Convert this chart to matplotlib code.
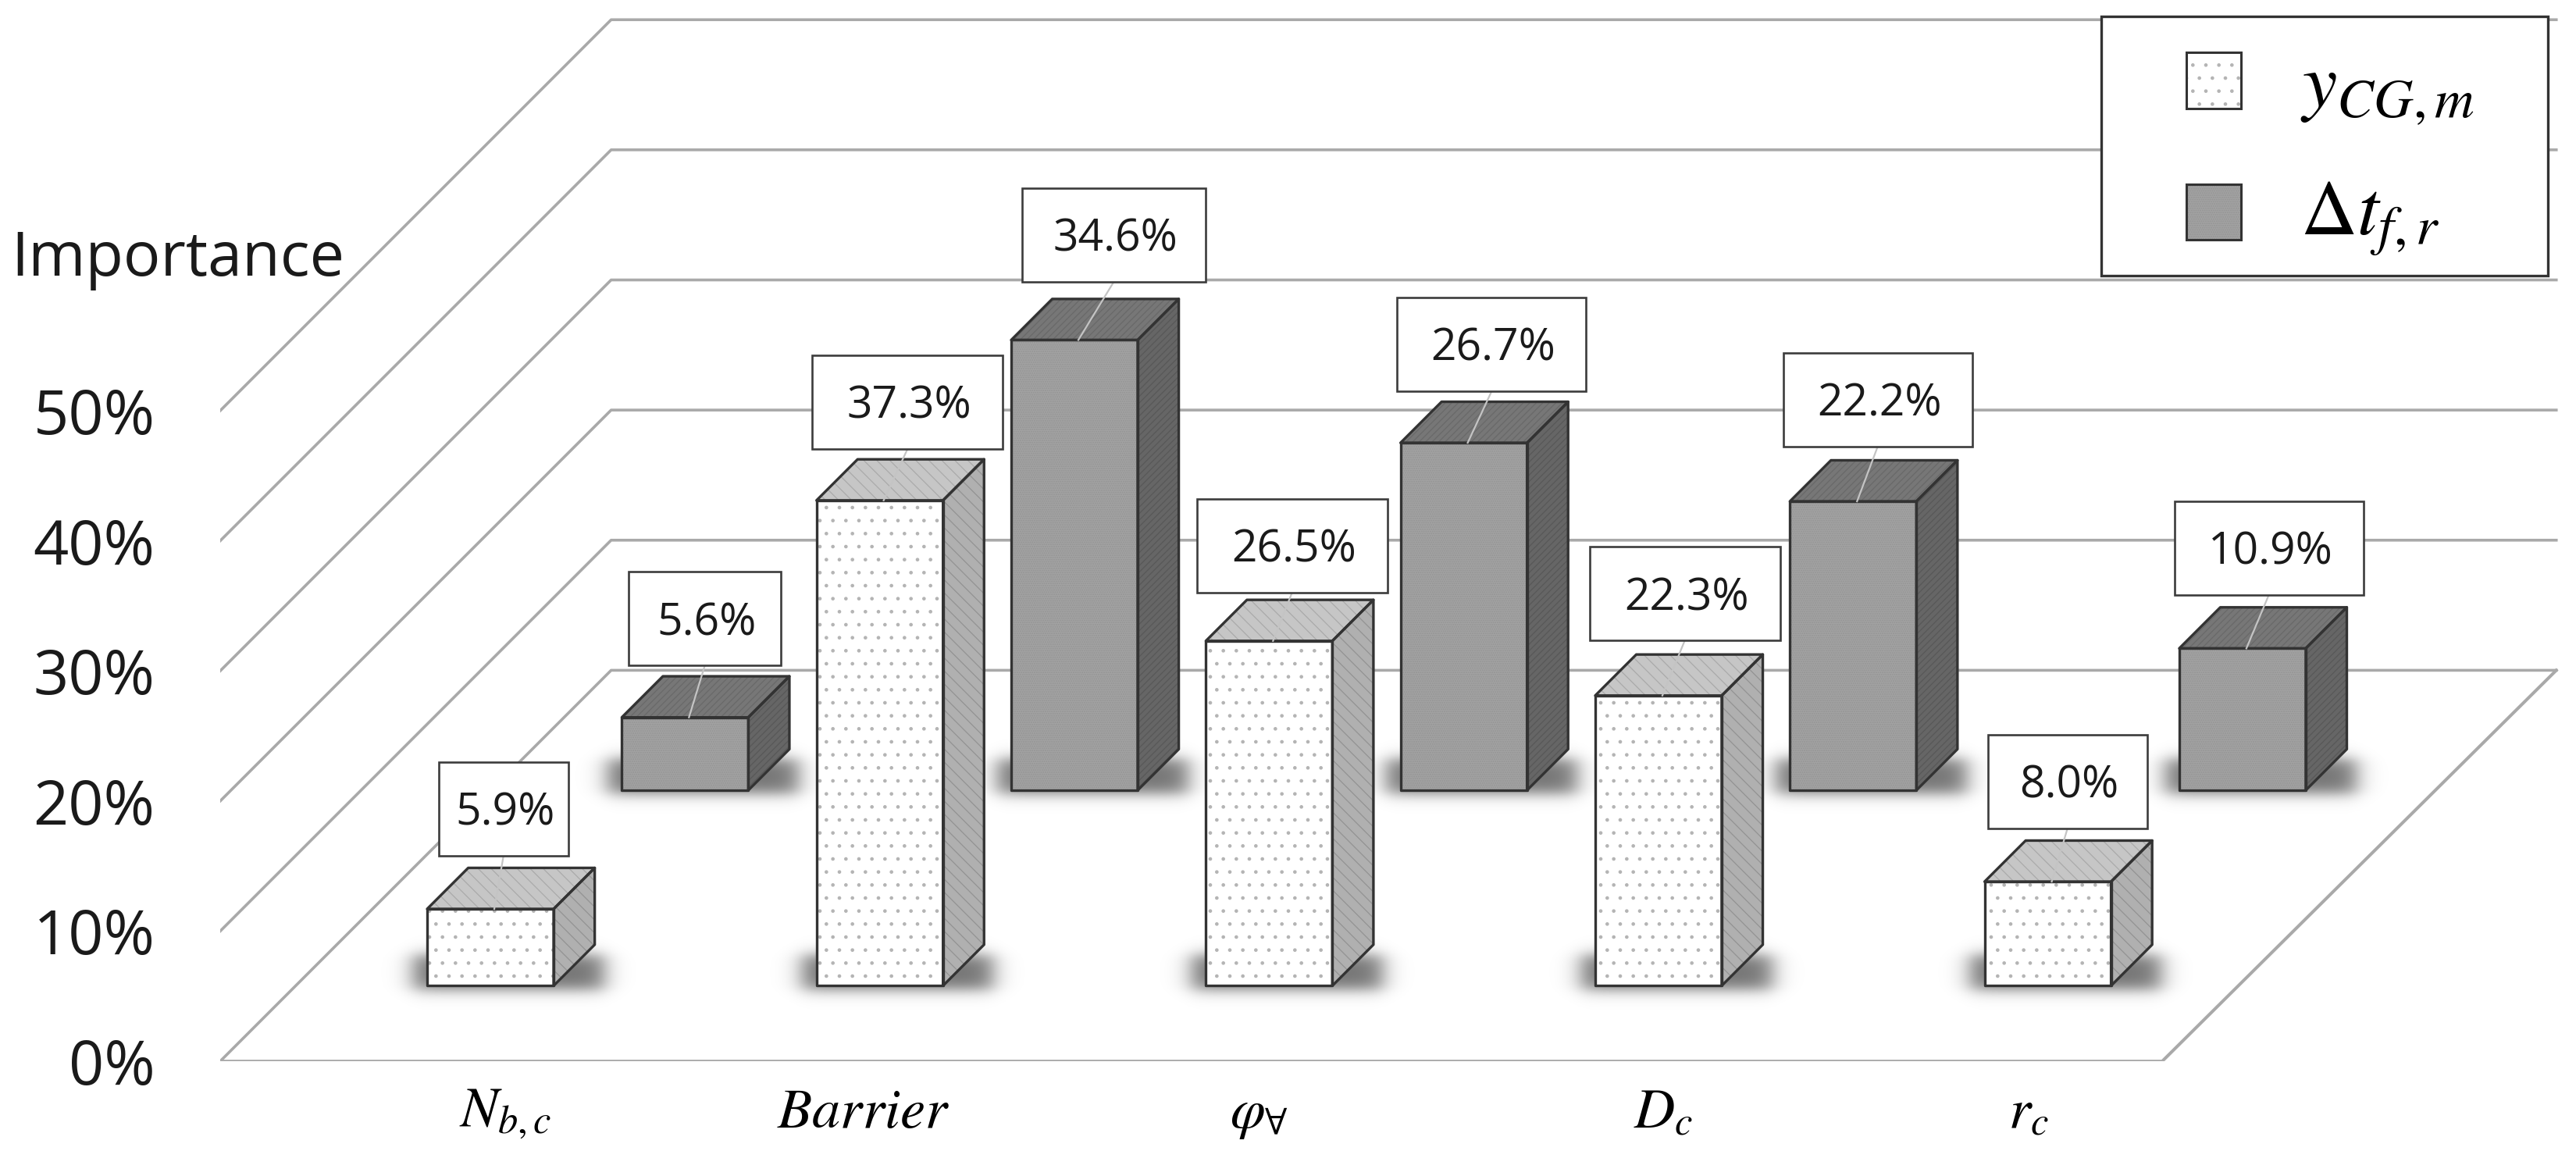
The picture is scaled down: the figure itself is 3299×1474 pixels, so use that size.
import numpy as np
import matplotlib
matplotlib.use("Agg")
import matplotlib.pyplot as plt
from matplotlib.patches import Polygon, Rectangle

# values
categories = [r"$N_{b,c}$", r"$Barrier$", r"$\varphi_{\forall}$", r"$D_c$", r"$r_c$"]
series_names = [r"$y_{CG,m}$", r"$\Delta t_{f,r}$"]
y_cg_m = [5.9, 37.3, 26.5, 22.3, 8.0]
dt_f_r = [5.6, 34.6, 26.7, 22.2, 10.9]
percent_ticks = [0, 10, 20, 30, 40, 50]

plt.rcParams["font.family"] = ["Open Sans", "DejaVu Sans"]
plt.rcParams["mathtext.fontset"] = "stix"
plt.rcParams["hatch.linewidth"] = 0.9

# picture is 1568 wide in "display" units, 1% of importance = 7.92 units
W, H = 1568.0, 700.6
cat_w = 237.0
per = 7.92
fig = plt.figure(figsize=(32.99, 14.74), dpi=100)
ax = fig.add_axes([134 / W, (H - 646) / H, (W - 134) / W, 646 / H])
for s in ax.spines.values():
    s.set_visible(False)

# oblique floor and walls
grid_c = "#a9a9a9"
run_x = 238 / cat_w
run_y = 238 / per
x_left = (134 - 260) / cat_w
x_right = (1556 - 260) / cat_w
for v in percent_ticks:
    ax.plot([x_left, x_left + run_x, x_right], [v, v + run_y, v + run_y], color=grid_c, lw=2.6, zorder=1)
ax.plot([x_left, x_right - run_x - 0.008, x_right], [0, 0, run_y], color=grid_c, lw=2.9, zorder=1)

bar_w = 77 / cat_w
depth_x = 25 / cat_w
depth_y = 25 / per
base_1 = (646 - 600) / per
base_2 = (646 - 481) / per
shift_2 = 118.5 / cat_w

styles_1 = dict(front=("#ffffff", "#b4b4b4", "."), side=("#b0b0b0", "#939393", "\\\\"), top=("#c6c6c6", "#aaaaaa", "\\\\"))
styles_2 = dict(front=("#a2a2a2", "#949494", "......"), side=("#666666", "#585858", "////"), top=("#777777", "#696969", "////"))
edge_c = "#333333"


def soft_shadow(x0, x1, y0, y1, sx, sy, z):
    xs = np.linspace(x0 - 4 * sx, x1 + 4 * sx, 120)
    ys = np.linspace(y0 - 4 * sy, y1 + 4 * sy, 80)
    fx = 0.5 * (np.tanh((xs - x0) / sx) - np.tanh((xs - x1) / sx))
    fy = 0.5 * (np.tanh((ys - y0) / sy) - np.tanh((ys - y1) / sy))
    img = np.zeros((len(ys), len(xs), 4))
    img[..., 3] = 0.55 * np.outer(fy, fx)
    ax.imshow(img, extent=[xs[0], xs[-1], ys[0], ys[-1]], origin="lower", aspect="auto",
              interpolation="bilinear", zorder=z)


def face(pts, style, z):
    fc, hc, h = style
    ax.add_patch(Polygon(pts, closed=True, facecolor=fc, edgecolor=hc, hatch=h, lw=0, zorder=z))
    ax.add_patch(Polygon(pts, closed=True, fill=False, edgecolor=edge_c, lw=2.4, joinstyle="round", zorder=z + 0.01))


def bar3d(x, base, val, st, z):
    t = base + val
    x1 = x + bar_w
    soft_shadow(x - 9 / cat_w, x1 + depth_x + 6 / cat_w, base - 0.3, base + 2.4, 8 / cat_w, 0.65, 2)
    face([(x, base), (x1, base), (x1, t), (x, t)], st["front"], z)
    face([(x1, base), (x1 + depth_x, base + depth_y), (x1 + depth_x, t + depth_y), (x1, t)], st["side"], z)
    face([(x, t), (x1, t), (x1 + depth_x, t + depth_y), (x + depth_x, t + depth_y)], st["top"], z)


# label boxes: offset from bar centre (display units) and box width
label_dx_1 = [8, 17, 14, 16, 12]
label_dy_1 = [61, 60, 58, 62, 61]
label_w_1 = [79, 116, 116, 116, 97]
label_dx_2 = [12, 24, 17, 15, 16]
label_dy_2 = [60, 64, 60, 62, 61]
label_w_2 = [93, 112, 115, 115, 115]
box_h = 57 / per


def value_label(x, base, val, dx, dy, w):
    cx = x + bar_w / 2
    t = base + val
    bx = cx + dx / cat_w
    by = t + dy / per
    ax.plot([bx, cx + 0.01], [by - box_h / 2, t], color="#c4c4c4", lw=1.6, zorder=9)
    ax.add_patch(Rectangle((bx - w / cat_w / 2, by - box_h / 2), w / cat_w, box_h, facecolor="white",
                           edgecolor="#3c3c3c", lw=1.9, zorder=10))
    ax.text(bx + 1 / cat_w, by - 3 / per, "%.1f%%" % val, ha="center", va="center", fontsize=41,
            color="#1a1a1a", zorder=11)


for i in range(len(categories)):
    bar3d(i + shift_2, base_2, dt_f_r[i], styles_2, 3 + 0.1 * i)
for i in range(len(categories)):
    bar3d(i, base_1, y_cg_m[i], styles_1, 4 + 0.1 * i)
for i in range(len(categories)):
    value_label(i, base_1, y_cg_m[i], label_dx_1[i], label_dy_1[i], label_w_1[i])
    value_label(i + shift_2, base_2, dt_f_r[i], label_dx_2[i], label_dy_2[i], label_w_2[i])

# axes text
tick_shift = [9, -10, -6, 3, -12]
ax.set_xticks([i + bar_w / 2 + tick_shift[i] / cat_w for i in range(len(categories))])
ax.set_xticklabels(categories, fontsize=52)
ax.set_yticks(percent_ticks)
ax.set_yticklabels(["%d%%" % v for v in percent_ticks], fontsize=57, color="#1a1a1a")
ax.tick_params(axis="x", length=0, pad=22)
ax.tick_params(axis="y", length=0, pad=60)
ax.set_xlim((134 - 260) / cat_w, (W - 260) / cat_w)
ax.set_ylim(0, 646 / per)
fig.text(7 / W, 1 - 158 / H, "Importance", fontsize=57, ha="left", va="center", color="#1a1a1a")


# legend box, drawn by hand to get the wide frame of the original
def fig_rect(x0, y0, x1, y1, **kw):
    fig.add_artist(Rectangle((x0 / W, 1 - y1 / H), (x1 - x0) / W, (y1 - y0) / H,
                             transform=fig.transFigure, **kw))


fig_rect(1279, 10, 1551, 168, facecolor="white", edgecolor="#333333", lw=2.4, zorder=20)
fig_rect(1331, 32, 1364, 66, facecolor="white", edgecolor="#b4b4b4", hatch=".", lw=0, zorder=21)
fig_rect(1331, 32, 1364, 66, fill=False, edgecolor="#333333", lw=2.2, zorder=22)
fig_rect(1331, 112, 1364, 146, facecolor="#a2a2a2", edgecolor="#949494", hatch="......", lw=0, zorder=21)
fig_rect(1331, 112, 1364, 146, fill=False, edgecolor="#333333", lw=2.2, zorder=22)
fig.text(1400 / W, 1 - 65 / H, series_names[0], fontsize=72, ha="left", va="baseline", zorder=23)
fig.text(1400 / W, 1 - 143 / H, series_names[1], fontsize=72, ha="left", va="baseline", zorder=23)

fig.savefig("out.png", dpi=100)
